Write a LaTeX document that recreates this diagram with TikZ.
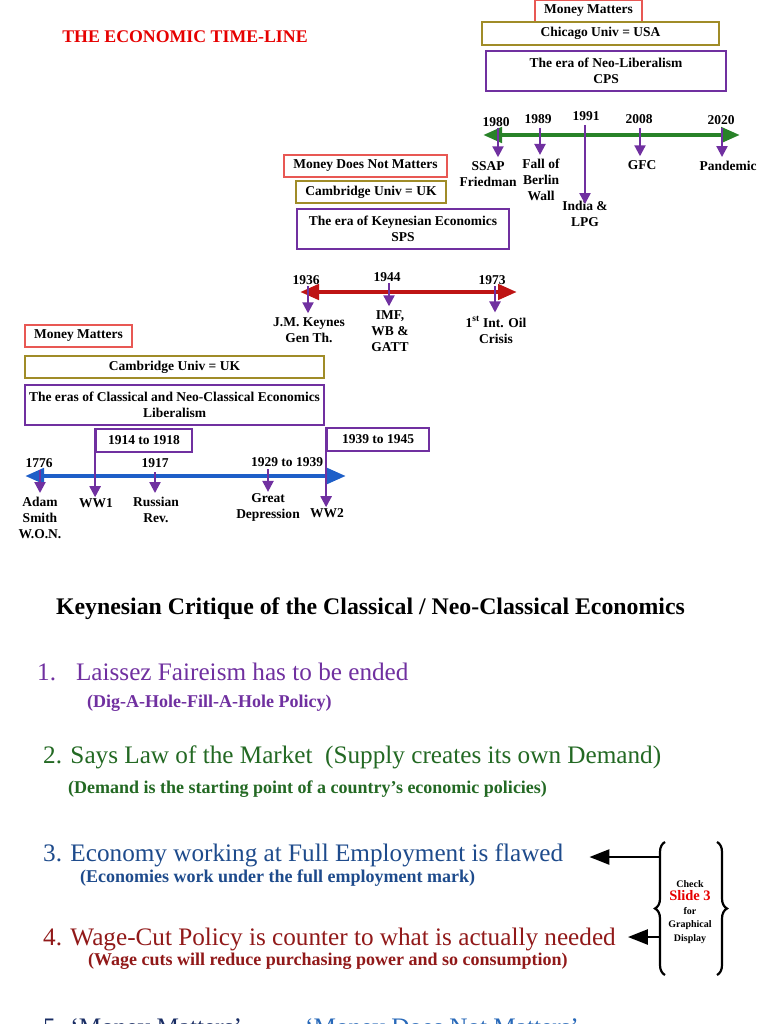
\documentclass[tikz,border=0pt]{standalone}
\usepackage{fontspec}
\setmainfont{Liberation Serif}
\usetikzlibrary{arrows.meta,decorations.pathreplacing}

\definecolor{eraPurple}{RGB}{112,48,160}
\definecolor{univOlive}{RGB}{160,140,40}
\definecolor{moneyRed}{RGB}{232,88,84}
\definecolor{lineGreen}{RGB}{40,130,40}
\definecolor{lineBlue}{RGB}{30,95,200}
\definecolor{lineRed}{RGB}{190,20,20}
\definecolor{titleRed}{RGB}{230,0,0}
\definecolor{itemGreen}{RGB}{35,105,35}
\definecolor{itemBlue}{RGB}{30,75,140}
\definecolor{itemRed}{RGB}{145,25,25}
\definecolor{itemNavy}{RGB}{25,45,100}
\definecolor{itemSky}{RGB}{40,105,185}

\newcommand{\lblfont}{\bfseries\fontsize{13.5}{16}\selectfont}

\tikzset{
  box/.style={line width=1.8pt, inner sep=0pt, align=center, font=\lblfont},
  moneybox/.style={box, draw=moneyRed},
  univbox/.style={box, draw=univOlive},
  erabox/.style={box, draw=eraPurple},
  year/.style={font=\lblfont, inner sep=1pt},
  event/.style={font=\lblfont, align=center, inner sep=1pt},
  tick/.style={eraPurple, line width=2.2pt, -{Triangle[length=11pt,width=11pt]}, shorten >=3pt},
  timeline/.style={#1, line width=4.5pt, {Triangle[length=19pt,width=15pt]}-{Triangle[length=19pt,width=15pt]}},
  item/.style={anchor=west, inner sep=0pt, font=\fontsize{25.2}{28}\selectfont},
  note/.style={anchor=west, inner sep=0pt, font=\bfseries\fontsize{18}{20}\selectfont},
  pointer/.style={line width=2.6pt, -{Triangle[length=20pt,width=15pt]}},
  curly/.style={decorate, decoration={brace, amplitude=10pt}, line width=2.2pt}
}

\begin{document}
\begin{tikzpicture}[x=1pt, y=-1pt]
  \useasboundingbox[fill=white] (0,0) rectangle (768,1024);
  \clip (0,0) rectangle (768,1024);

  % Title
  \node[font=\bfseries\fontsize{17.8}{20}\selectfont, text=titleRed] (title) at (185,37) {THE ECONOMIC TIME-LINE};

  % Neo-Liberal era (top right)
  \node[moneybox, minimum width=107, minimum height=22] (mmTop) at (588.5,11) {Money Matters};
  \node[univbox, minimum width=237, minimum height=23] (uChicago) at (600.5,33.5) {Chicago Univ = USA};
  \node[erabox, minimum width=240, minimum height=40] (eraNeo) at (606,71) {The era of Neo-Liberalism\\CPS};

  \coordinate (gL) at (483,135);
  \coordinate (gR) at (740,135);
  \draw[timeline=lineGreen] (gL) -- (gR);

  \node[year] (y1980) at (496,122) {1980};
  \node[year] (y1989) at (538,119) {1989};
  \node[year] (y1991) at (586,116) {1991};
  \node[year] (y2008) at (639,119) {2008};
  \node[year] (y2020) at (721,120) {2020};

  \node[event] (e1980) at (488,174) {SSAP\\Friedman};
  \node[event] (e1989) at (541,180) {Fall of\\Berlin\\Wall};
  \node[event] (e1991) at (585,214) {India \&\\LPG};
  \node[event] (e2008) at (642,165) {GFC};
  \node[event] (e2020) at (728,166) {Pandemic};

  \coordinate (t1980) at (498,128);
  \coordinate (t1989) at (540,128);
  \coordinate (t1991) at (585,125);
  \coordinate (t2008) at (640,128);
  \coordinate (t2020) at (722,128);
  \draw[tick] (t1980) -- (t1980 |- e1980.north);
  \draw[tick] (t1989) -- (t1989 |- e1989.north);
  \draw[tick, shorten >=-4pt] (t1991) -- (t1991 |- e1991.north);
  \draw[tick] (t2008) -- (t2008 |- e2008.north);
  \draw[tick] (t2020) -- (t2020 |- e2020.north);

  % Keynesian era (middle)
  \node[moneybox, minimum width=163, minimum height=22] (mdnm) at (365.5,166) {Money Does Not Matters};
  \node[univbox, minimum width=150, minimum height=22] (uCambMid) at (371,192) {Cambridge Univ = UK};
  \node[erabox, minimum width=212, minimum height=40] (eraKeynes) at (403,229) {The era of Keynesian Economics\\SPS};

  \coordinate (rL) at (300,292);
  \coordinate (rR) at (517,292);
  \draw[timeline=lineRed] (rL) -- (rR);

  \node[year] (y1936) at (306,280) {1936};
  \node[year] (y1944) at (387,277) {1944};
  \node[year] (y1973) at (492,280) {1973};

  \node[event] (e1936) at (309,330) {J.M. Keynes\\Gen Th.};
  \node[event] (e1944) at (390,331) {IMF,\\WB \&\\GATT};
  \node[event] (e1973) at (496,330) {1\textsuperscript{st} Int. Oil\\Crisis};

  \coordinate (t1936) at (308,286);
  \coordinate (t1944) at (389,283);
  \coordinate (t1973) at (495,286);
  \draw[tick] (t1936) -- (t1936 |- e1936.north);
  \draw[tick] (t1944) -- (t1944 |- e1944.north);
  \draw[tick] (t1973) -- (t1973 |- e1973.north);

  % Classical era (lower left)
  \node[moneybox, minimum width=107, minimum height=22] (mmLow) at (78.5,336) {Money Matters};
  \node[univbox, minimum width=299, minimum height=22] (uCambLow) at (174.5,367) {Cambridge Univ = UK};
  \node[erabox, minimum width=299, minimum height=40] (eraClass) at (174.5,405) {The eras of Classical and Neo-Classical Economics\\Liberalism};
  \node[erabox, minimum width=96, minimum height=23] (b1914) at (144,440.5) {1914 to 1918};
  \node[erabox, minimum width=102, minimum height=23] (b1939) at (378,439.5) {1939 to 1945};

  \coordinate (bL) at (25,476);
  \coordinate (bR) at (346,476);
  \draw[timeline=lineBlue] (bL) -- (bR);

  \node[year] (y1776) at (39,463) {1776};
  \node[year] (y1917) at (155,463) {1917};
  \node[year] (y1929) at (287,462) {1929 to 1939};

  \node[event] (e1776) at (40,518) {Adam\\Smith\\W.O.N.};
  \node[event] (eWW1) at (96,503) {WW1};
  \node[event] (e1917) at (156,510) {Russian\\Rev.};
  \node[event] (e1929) at (268,507) {Great\\Depression};
  \node[event] (eWW2) at (327,513) {WW2};

  \coordinate (t1776) at (40,470);
  \coordinate (t1917) at (155,472);
  \coordinate (t1929) at (268,469);
  \draw[tick] (t1776) -- (t1776 |- e1776.north);
  \draw[tick] (t1917) -- (t1917 |- e1917.north);
  \draw[tick, shorten >=0pt] (t1929) -- (t1929 |- e1929.north);
  \draw[tick, shorten >=0pt] (b1914.north west) -- (b1914.north west |- eWW1.north);
  \draw[tick, shorten >=0pt] (b1939.north west) -- (b1939.north west |- eWW2.north);

  % Critique
  \node[font=\bfseries\fontsize{23.8}{26}\selectfont] (critique) at (370.5,609) {Keynesian Critique of the Classical / Neo-Classical Economics};

  \node[item, text=eraPurple] (i1) at (37,672) {1.\hspace{20pt}Laissez Faireism has to be ended};
  \node[note, text=eraPurple] (n1) at (87,703) {(Dig-A-Hole-Fill-A-Hole Policy)};

  \node[item, text=itemGreen] (i2) at (43,757) {2. Says Law of the Market\ \ (Supply creates its own Demand)};
  \node[note, text=itemGreen] (n2) at (68,789) {(Demand is the starting point of a country’s economic policies)};

  \node[item, text=itemBlue] (i3) at (43,855) {3. Economy working at Full Employment is flawed};
  \node[note, text=itemBlue] (n3) at (80,878) {(Economies work under the full employment mark)};

  \node[item, text=itemRed] (i4) at (43,939) {4. Wage-Cut Policy is counter to what is actually needed};
  \node[note, text=itemRed] (n4) at (88,961) {(Wage cuts will reduce purchasing power and so consumption)};

  \node[item, anchor=base west, text=itemNavy] (i5a) at (43,1035) {5. ‘Money Matters’};
  \node[item, anchor=base west, text=itemSky] (i5b) at (305,1035) {‘Money Does Not Matters’};

  % Check slide box
  \draw[curly] (665,975) -- (665,842);
  \draw[curly] (717,842) -- (717,975);
  \node[align=center, font=\bfseries\fontsize{10}{13.5}\selectfont] (check) at (690,912)
    {Check\\{\color{titleRed}\fontsize{14.5}{14}\selectfont Slide 3}\\for\\Graphical\\Display};
  \coordinate (pA) at (660,857);
  \coordinate (pB) at (660,937);
  \draw[pointer] (pA) -- ([xshift=26pt]i3.east |- pA);
  \draw[pointer] (pB) -- ([xshift=12pt]i4.east |- pB);
\end{tikzpicture}
\end{document}
